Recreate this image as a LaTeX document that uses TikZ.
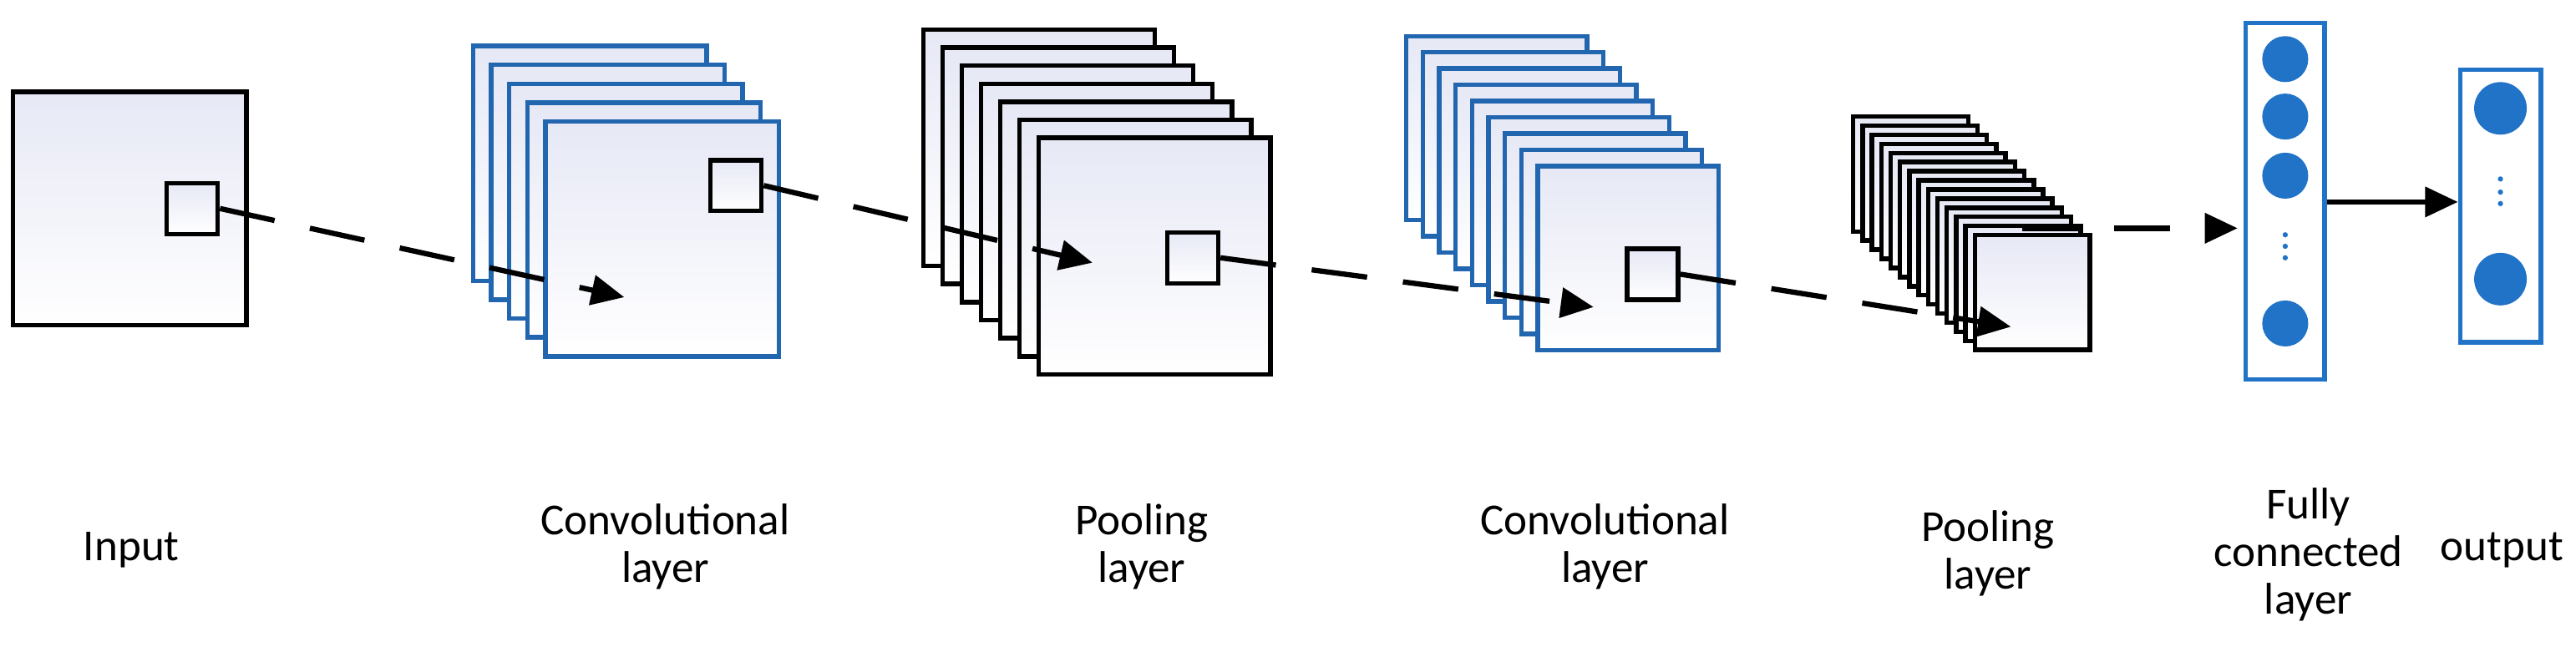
\documentclass[tikz,border=0pt]{standalone}
\usepackage{fontspec}
\setmainfont{Carlito}
\usetikzlibrary{arrows.meta}
\definecolor{fmblue}{HTML}{2266B0}
\definecolor{nblue}{HTML}{2173C7}
\definecolor{lav}{HTML}{E6E8F5}
\tikzset{
 fm/.style={draw=#1,line width=1.4pt,top color=lav,bottom color=white},
 win/.style={draw=black,line width=1.4pt,top color=lav,bottom color=white,minimum size=15.5pt,inner sep=0pt,rectangle},
 flow/.style={line width=1.6pt,dash pattern=on 17pt off 11pt,-{Triangle[length=10pt,width=9pt]}},
 lbl/.style={font=\fontsize{13.5}{14.5}\selectfont,align=center},
 neuron/.style={circle,fill=nblue,inner sep=0pt,minimum size=#1},
 vdot/.style={circle,fill=nblue,inner sep=0pt,minimum size=1.6pt},
}
\begin{document}
\begin{tikzpicture}[x=0.5pt,y=-0.5pt]
\useasboundingbox (0,0) rectangle (1568,394);
% input
\draw[fm=black] (8,56) rectangle (150,198);
\node[win] (w0) at (117,127) {};
% conv 1
\foreach \i in {0,...,4}{\draw[fm=fmblue] ({288+11*\i},{28+11.5*\i}) rectangle ++(142,143);}
\node[win] (w1) at (448,113) {};
\coordinate (a1) at (380,181);
% pool 1
\foreach \i in {0,...,6}{\draw[fm=black] ({562+11.7*\i},{18+11*\i}) rectangle ++(141,144);}
\node[win] (w2) at (726,157) {};
\coordinate (a2) at (665,160);
% conv 2
\foreach \i in {0,...,8}{\draw[fm=fmblue] ({856+10*\i},{22+9.9*\i}) rectangle ++(110,112);}
\node[win] (w3) at (1006,167) {};
\coordinate (a3) at (970,187);
% pool 2
\foreach \i in {0,...,13}{\draw[fm=black] ({1128+5.7*\i},{71+5.55*\i}) rectangle ++(70,70);}
\coordinate (a4) at (1224,199);
\coordinate (s5) at (1231,139);
% FC
\node[draw=nblue,line width=1.4pt,minimum width=24pt,minimum height=108.5pt,inner sep=0pt] (fc) at (1391,122.5) {};
\foreach \y/\n in {36/c1,71/c2,107/c3,197/c4}{\node[neuron=14pt] (\n) at (1391,\y) {};}
\foreach \y in {143,150,157}{\node[vdot] at (1391,\y) {};}
\coordinate (a5) at (1362,139);
% output
\node[draw=nblue,line width=1.4pt,minimum width=24.5pt,minimum height=83pt,inner sep=0pt] (out) at (1522,125.5) {};
\foreach \y/\n in {66/o1,170/o2}{\node[neuron=16pt] (\n) at (1522,\y) {};}
\foreach \y in {109,117,124}{\node[vdot] at (1522,\y) {};}
% arrows
\draw[flow] (w0.east) -- (a1);
\draw[flow] (w1.east) -- (a2);
\draw[flow] (w2.east) -- (a3);
\draw[flow] (w3.east) -- (a4);
\draw[flow] (s5) -- (a5);
\draw[line width=1.6pt,-{Triangle[length=10pt,width=9pt]}] (fc.east |- 0,123) coordinate (f0) -- (out.west |- f0);
% labels
\node[lbl] (t0) at (80,335) {Input};
\node[lbl] (t1) at (405,333) {Convolutional\\layer};
\node[lbl] (t2) at (695,333) {Pooling\\layer};
\node[lbl] (t3) at (977,333) {Convolutional\\layer};
\node[lbl] (t4) at (1210,337) {Pooling\\layer};
\node[lbl] (t5) at (1405,338) {Fully\\connected\\layer};
\node[lbl] (t6) at (1523,335) {output};
\end{tikzpicture}
\end{document}
